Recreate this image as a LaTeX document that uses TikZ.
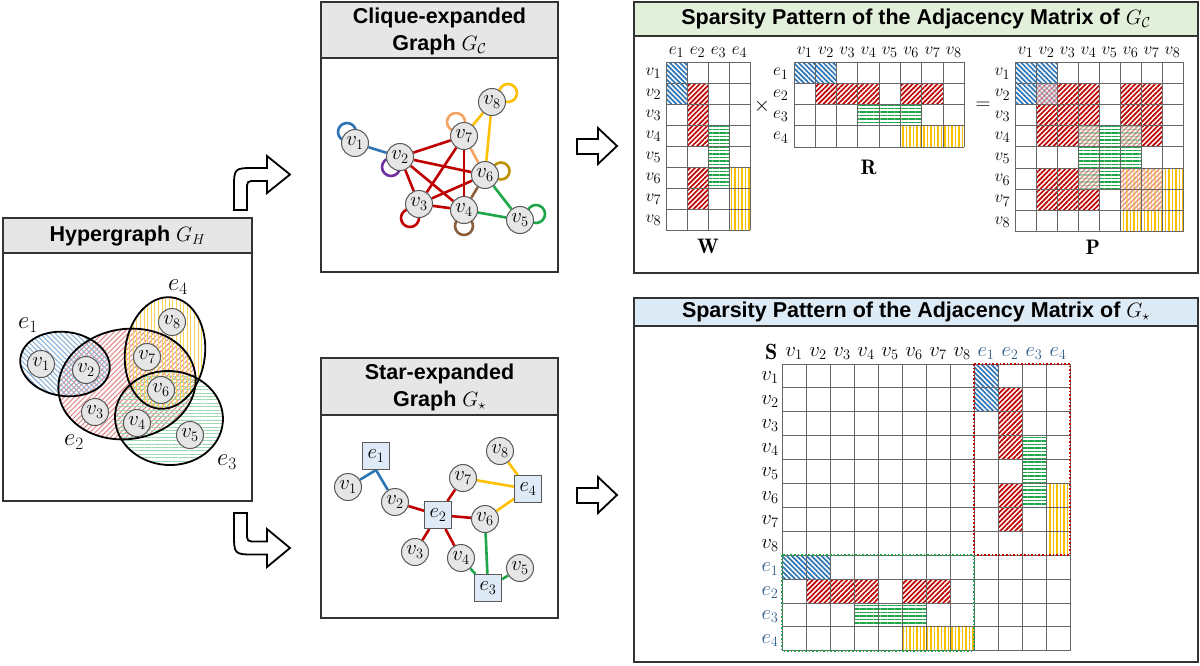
\documentclass[tikz,border=0pt]{standalone}
\usepackage{fontspec}
\setsansfont{Liberation Sans}
\usetikzlibrary{patterns.meta,calc}
\definecolor{cblue}{HTML}{2E75B6}
\definecolor{cred}{HTML}{C00000}
\definecolor{cgreen}{HTML}{1FA64A}
\definecolor{cyellow}{HTML}{FFC000}
\definecolor{cpurple}{HTML}{7030A0}
\definecolor{corange}{HTML}{F4A460}
\definecolor{cgold}{HTML}{BF9000}
\definecolor{cbrown}{HTML}{8B5E3C}
\definecolor{hdrgray}{HTML}{E7E6E6}
\definecolor{hdrgreen}{HTML}{E2EFDA}
\definecolor{hdrblue}{HTML}{DDEBF7}
\definecolor{nodegray}{HTML}{E6E6E6}
\definecolor{sqblue}{HTML}{DEEBF7}
\definecolor{elab}{HTML}{2F5D8C}
\pgfdeclarelayer{back}
\pgfsetlayers{back,main}
\newcommand\mcell[3]{\fill[#3] ({#1-1},{#2-1}) rectangle ({#1},{#2});}
\begin{document}
\begin{tikzpicture}[x=1pt,y=-1pt,
  panel/.style={draw=black!80,line width=1.2pt},
  hdrtext/.style={font=\sffamily\bfseries\fontsize{21.5}{27}\selectfont,align=center,inner sep=0pt},
  vnode/.style={circle,draw=black!65,fill=nodegray,line width=1pt,minimum size=27pt,inner sep=0pt,font=\fontsize{22.5}{22.5}\selectfont},
  enode/.style={rectangle,draw=black!65,fill=sqblue,line width=1pt,minimum size=27pt,inner sep=0pt,font=\fontsize{21}{21}\selectfont},
  cedge/.style={line width=2.6pt},
  bluep/.style={pattern={Lines[angle=-45,distance=3.5pt,line width=1.7pt]},pattern color=cblue},
  redp/.style={pattern={Lines[angle=45,distance=3.5pt,line width=1.7pt]},pattern color=cred},
  greenp/.style={pattern={Lines[angle=0,distance=3.5pt,line width=1.6pt]},pattern color=cgreen},
  yellowp/.style={pattern={Lines[angle=90,distance=3.5pt,line width=1.6pt]},pattern color=cyellow},
  hbluep/.style={pattern={Lines[angle=-45,distance=3.6pt,line width=1.1pt]},pattern color=cblue!55},
  hredp/.style={pattern={Lines[angle=45,distance=3.6pt,line width=1.1pt]},pattern color=cred!45},
  hgreenp/.style={pattern={Lines[angle=0,distance=3.4pt,line width=1pt]},pattern color=cgreen!45},
  hyellowp/.style={pattern={Lines[angle=90,distance=3.6pt,line width=1pt]},pattern color=cyellow!65},
  gridl/.style={draw=black!60,line width=0.9pt},
  mlab/.style={font=\fontsize{19}{19}\selectfont,inner sep=0pt},
  slab/.style={font=\fontsize{21}{21}\selectfont,inner sep=0pt},
  blk/.style={draw=black,line width=1.8pt,fill=white,line join=miter},
  mx/.style={opacity=0.4}
]
\useasboundingbox (0,0) rectangle (1200,665);
\begin{pgfonlayer}{back}
\fill[white] (0,0) rectangle (1200,665);
\end{pgfonlayer}

% ---------------- Hypergraph panel
\fill[hdrgray] (3,218) rectangle (252,253);
\draw[panel] (3,218) rectangle (252,501);
\draw[panel] (3,253) -- (252,253);
\node[hdrtext] (t-hyper) at (127.5,236) {Hypergraph $G_H$};

\fill[hredp] (127,384) ellipse [x radius=69pt,y radius=55pt,rotate=9];
\fill[hbluep] (65,364) ellipse [x radius=45pt,y radius=32pt,rotate=-8];
\fill[hgreenp] (169,418) ellipse [x radius=54pt,y radius=47pt,rotate=-4];
\fill[hyellowp] (165,353) ellipse [x radius=40pt,y radius=56pt,rotate=-7];
\draw[line width=1.8pt] (127,384) ellipse [x radius=69pt,y radius=55pt,rotate=9];
\draw[line width=1.8pt] (65,364) ellipse [x radius=45pt,y radius=32pt,rotate=-8];
\draw[line width=1.8pt] (169,418) ellipse [x radius=54pt,y radius=47pt,rotate=-4];
\draw[line width=1.8pt] (165,353) ellipse [x radius=40pt,y radius=56pt,rotate=-7];

\node[vnode] (h1) at (41,364) {$v_1$};
\node[vnode] (h2) at (86,370) {$v_2$};
\node[vnode] (h3) at (95,412) {$v_3$};
\node[vnode] (h4) at (137,423) {$v_4$};
\node[vnode] (h5) at (190,435) {$v_5$};
\node[vnode] (h6) at (161,390) {$v_6$};
\node[vnode] (h7) at (147,357) {$v_7$};
\node[vnode] (h8) at (172,322) {$v_8$};
\node[font=\fontsize{26}{26}\selectfont] (he1) at (28,325) {$e_1$};
\node[font=\fontsize{26}{26}\selectfont] (he2) at (74,442) {$e_2$};
\node[font=\fontsize{26}{26}\selectfont] (he3) at (227,462) {$e_3$};
\node[font=\fontsize{26}{26}\selectfont] (he4) at (178,287) {$e_4$};

% ---------------- Turn arrows
\draw[blk] (234,210) -- (234,189) .. controls (234,168) .. (255,168) -- (267,168) -- (267,156) -- (290,174.5) -- (267,193) -- (267,181) -- (256,181) .. controls (247,181) .. (247,190) -- (247,210) -- cycle;
\draw[blk] (234,513) -- (234,533) .. controls (234,554.5) .. (255,554.5) -- (267,554.5) -- (267,567) -- (290,548) -- (267,529) -- (267,541.5) -- (256,541.5) .. controls (247,541.5) .. (247,532) -- (247,513) -- cycle;

% ---------------- Clique panel
\fill[hdrgray] (321,2) rectangle (558,58);
\draw[panel] (321,2) rectangle (558,272);
\draw[panel] (321,58) -- (558,58);
\node[hdrtext] (t-clique) at (439.5,31) {Clique-expanded\\Graph $G_{\mathcal{C}}$};

\node[vnode] (c1) at (355,143) {$v_1$};
\node[vnode] (c2) at (400,157) {$v_2$};
\node[vnode] (c3) at (419,204) {$v_3$};
\node[vnode] (c4) at (464,210) {$v_4$};
\node[vnode] (c5) at (520,220) {$v_5$};
\node[vnode] (c6) at (485,175) {$v_6$};
\node[vnode] (c7) at (464,136) {$v_7$};
\node[vnode] (c8) at (492,102) {$v_8$};
\begin{pgfonlayer}{back}
\draw[cedge,cblue] ($(c1)+(-8,-11)$) circle (9pt);
\draw[cedge,cpurple] ($(c2)+(-9,10)$) circle (9pt);
\draw[cedge,corange] ($(c7)+(-8,-14)$) circle (9pt);
\draw[cedge,cyellow] ($(c8)+(16,-9)$) circle (9pt);
\draw[cedge,cgold] ($(c6)+(16,-4)$) circle (8.5pt);
\draw[cedge,cred] ($(c3)+(-9,14)$) circle (9pt);
\draw[cedge,cbrown] ($(c4)+(0,16)$) circle (9pt);
\draw[cedge,cgreen] ($(c5)+(16,-6)$) circle (9pt);
\draw[cedge,cblue] (c1) -- (c2);
\draw[cedge,cred] (c2) -- (c7);
\draw[cedge,cred] (c2) -- (c6);
\draw[cedge,cred] (c2) -- (c4);
\draw[cedge,cred] (c2) -- (c3);
\draw[cedge,cred] (c3) -- (c7);
\draw[cedge,cred] (c4) -- (c7);
\draw[cedge,cred] (c3) -- (c6);
\draw[cedge,cred] (c3) -- (c4);
\draw[cedge,corange] (c6) -- (c7);
\draw[cedge,cbrown] (c4) -- (c6);
\draw[cedge,cyellow] (c7) -- (c8);
\draw[cedge,cyellow] (c6) -- (c8);
\draw[cedge,cgreen] (c4) -- (c5);
\draw[cedge,cgreen] (c6) -- (c5);
\end{pgfonlayer}

% ---------------- Star panel
\fill[hdrgray] (321,358) rectangle (558,415);
\draw[panel] (321,358) rectangle (558,618);
\draw[panel] (321,415) -- (558,415);
\node[hdrtext] (t-star) at (439.5,387) {Star-expanded\\Graph $G_{\star}$};

\node[enode] (se1) at (376,456) {$e_1$};
\node[enode] (se2) at (438,515) {$e_2$};
\node[enode] (se3) at (488,588) {$e_3$};
\node[enode] (se4) at (528,489) {$e_4$};
\node[vnode] (s1) at (348,487) {$v_1$};
\node[vnode] (s2) at (395,502) {$v_2$};
\node[vnode] (s3) at (415,552) {$v_3$};
\node[vnode] (s4) at (461,558) {$v_4$};
\node[vnode] (s5) at (520,568) {$v_5$};
\node[vnode] (s6) at (485,519) {$v_6$};
\node[vnode] (s7) at (463,478) {$v_7$};
\node[vnode] (s8) at (500,451) {$v_8$};
\begin{pgfonlayer}{back}
\draw[cedge,cblue] (se1.south) -- (s1);
\draw[cedge,cblue] (se1.south) -- (s2);
\draw[cedge,cred] (se2) -- (s2);
\draw[cedge,cred] (se2) -- (s3);
\draw[cedge,cred] (se2) -- (s4);
\draw[cedge,cred] (se2) -- (s6);
\draw[cedge,cred] (se2) -- (s7);
\draw[cedge,cgreen] (se3) -- (s4);
\draw[cedge,cgreen] (se3) -- (s5);
\draw[cedge,cgreen] (se3) -- (s6);
\draw[cedge,cyellow] (se4) -- (s6);
\draw[cedge,cyellow] (se4) -- (s7);
\draw[cedge,cyellow] (se4) -- (s8);
\end{pgfonlayer}

% ---------------- Block arrows
\draw[blk] (577,139) -- (598,139) -- (598,128) -- (617,146) -- (598,164) -- (598,154) -- (577,154) -- cycle;
\draw[blk] (577,488) -- (598,488) -- (598,477) -- (617,495) -- (598,513) -- (598,503) -- (577,503) -- cycle;

% ---------------- Top-right panel
\fill[hdrgreen] (634,2) rectangle (1198,36);
\draw[panel] (634,2) rectangle (1198,273);
\draw[panel] (634,36) -- (1198,36);
\node[hdrtext] (t-spc) at (916,19) {Sparsity Pattern of the Adjacency Matrix of $G_{\mathcal{C}}$};

% W
\begin{scope}[xshift=666pt,yshift=-62pt,x=21pt,y=-21pt]
\foreach \c/\r in {1/1,1/2} {\mcell{\c}{\r}{bluep}}
\foreach \c/\r in {2/2,2/3,2/4,2/6,2/7} {\mcell{\c}{\r}{redp}}
\foreach \c/\r in {3/4,3/5,3/6} {\mcell{\c}{\r}{greenp}}
\foreach \c/\r in {4/6,4/7,4/8} {\mcell{\c}{\r}{yellowp}}
\foreach \i in {0,...,4} {\draw[gridl] (\i,0) -- (\i,8);}
\foreach \j in {0,...,8} {\draw[gridl] (0,\j) -- (4,\j);}
\foreach \i in {1,...,4} {\node[mlab] (W-c\i) at (\i-0.5,-0.45) {$e_{\i}$};}
\foreach \i in {1,...,8} {\node[mlab] (W-r\i) at (-0.6,\i-0.45) {$v_{\i}$};}
\node[font=\fontsize{21}{21}\selectfont] (W-name) at (2,8.8) {$\mathbf{W}$};
\end{scope}
\node[font=\fontsize{20}{20}\selectfont] (times) at (762,106) {$\times$};

% R
\begin{scope}[xshift=794pt,yshift=-62pt,x=21.3pt,y=-21.3pt]
\foreach \c/\r in {1/1,2/1} {\mcell{\c}{\r}{bluep}}
\foreach \c/\r in {2/2,3/2,4/2,6/2,7/2} {\mcell{\c}{\r}{redp}}
\foreach \c/\r in {4/3,5/3,6/3} {\mcell{\c}{\r}{greenp}}
\foreach \c/\r in {6/4,7/4,8/4} {\mcell{\c}{\r}{yellowp}}
\foreach \i in {0,...,8} {\draw[gridl] (\i,0) -- (\i,4);}
\foreach \j in {0,...,4} {\draw[gridl] (0,\j) -- (8,\j);}
\foreach \i in {1,...,8} {\node[mlab] (R-c\i) at (\i-0.5,-0.45) {$v_{\i}$};}
\foreach \i in {1,...,4} {\node[mlab] (R-r\i) at (-0.62,\i-0.45) {$e_{\i}$};}
\node[font=\fontsize{21}{21}\selectfont] (R-name) at (3.5,4.95) {$\mathbf{R}$};
\end{scope}
\node[font=\fontsize{20}{20}\selectfont] (equals) at (983,106) {$=$};

% P
\begin{scope}[xshift=1015pt,yshift=-62pt,x=21pt,y=-21.2pt]
\foreach \c/\r in {1/1,2/1,1/2} {\mcell{\c}{\r}{bluep}}
\foreach \c/\r in {3/2,4/2,6/2,7/2,2/3,3/3,4/3,6/3,7/3,2/4,3/4,7/4,2/6,3/6,2/7,3/7,4/7} {\mcell{\c}{\r}{redp}}
\foreach \c/\r in {5/4,4/5,5/5,6/5,5/6} {\mcell{\c}{\r}{greenp}}
\foreach \c/\r in {8/6,8/7,6/8,7/8,8/8} {\mcell{\c}{\r}{yellowp}}
\mcell{2}{2}{bluep,mx}\mcell{2}{2}{redp,mx}
\foreach \c/\r in {4/4,6/4,4/6} {\mcell{\c}{\r}{redp,mx}\mcell{\c}{\r}{greenp,mx}}
\foreach \c/\r in {6/6,7/6,6/7,7/7} {\mcell{\c}{\r}{redp,mx}\mcell{\c}{\r}{yellowp,mx}}
\foreach \i in {0,...,8} {\draw[gridl] (\i,0) -- (\i,8);}
\foreach \j in {0,...,8} {\draw[gridl] (0,\j) -- (8,\j);}
\foreach \i in {1,...,8} {\node[mlab] (P-c\i) at (\i-0.5,-0.45) {$v_{\i}$};}
\foreach \i in {1,...,8} {\node[mlab] (P-r\i) at (-0.6,\i-0.45) {$v_{\i}$};}
\node[font=\fontsize{21}{21}\selectfont] (P-name) at (3.7,8.75) {$\mathbf{P}$};
\end{scope}

% ---------------- Bottom-right panel
\fill[hdrblue] (634,298) rectangle (1198,326);
\draw[panel] (634,298) rectangle (1198,662);
\draw[panel] (634,326) -- (1198,326);
\node[hdrtext] (t-sps) at (916,312) {Sparsity Pattern of the Adjacency Matrix of $G_{\star}$};

\begin{scope}[xshift=782pt,yshift=-364pt,x=24pt,y=-23.9pt]
\foreach \c/\r in {1/1,1/2} {\mcell{\c+8}{\r}{bluep}}
\foreach \c/\r in {2/2,2/3,2/4,2/6,2/7} {\mcell{\c+8}{\r}{redp}}
\foreach \c/\r in {3/4,3/5,3/6} {\mcell{\c+8}{\r}{greenp}}
\foreach \c/\r in {4/6,4/7,4/8} {\mcell{\c+8}{\r}{yellowp}}
\foreach \c/\r in {1/1,2/1} {\mcell{\c}{\r+8}{bluep}}
\foreach \c/\r in {2/2,3/2,4/2,6/2,7/2} {\mcell{\c}{\r+8}{redp}}
\foreach \c/\r in {4/3,5/3,6/3} {\mcell{\c}{\r+8}{greenp}}
\foreach \c/\r in {6/4,7/4,8/4} {\mcell{\c}{\r+8}{yellowp}}
\foreach \i in {0,...,12} {\draw[gridl] (\i,0) -- (\i,12);}
\foreach \j in {0,...,12} {\draw[gridl] (0,\j) -- (12,\j);}
\draw[cred,dotted,line width=1.6pt] (8,0) rectangle (12,8);
\draw[cgreen,dotted,line width=1.6pt] (0,8) rectangle (8,12);
\node[font=\fontsize{22}{22}\selectfont] (S-name) at (-0.45,-0.5) {$\mathbf{S}$};
\foreach \i in {1,...,8} {\node[slab] (S-c\i) at (\i-0.5,-0.45) {$v_{\i}$};}
\foreach \i in {1,...,4} {\node[slab,text=elab] (S-ce\i) at (\i+7.5,-0.45) {$e_{\i}$};}
\foreach \i in {1,...,8} {\node[slab] (S-r\i) at (-0.5,\i-0.42) {$v_{\i}$};}
\foreach \i in {1,...,4} {\node[slab,text=elab] (S-re\i) at (-0.5,\i+7.58) {$e_{\i}$};}
\end{scope}
\end{tikzpicture}
\end{document}
